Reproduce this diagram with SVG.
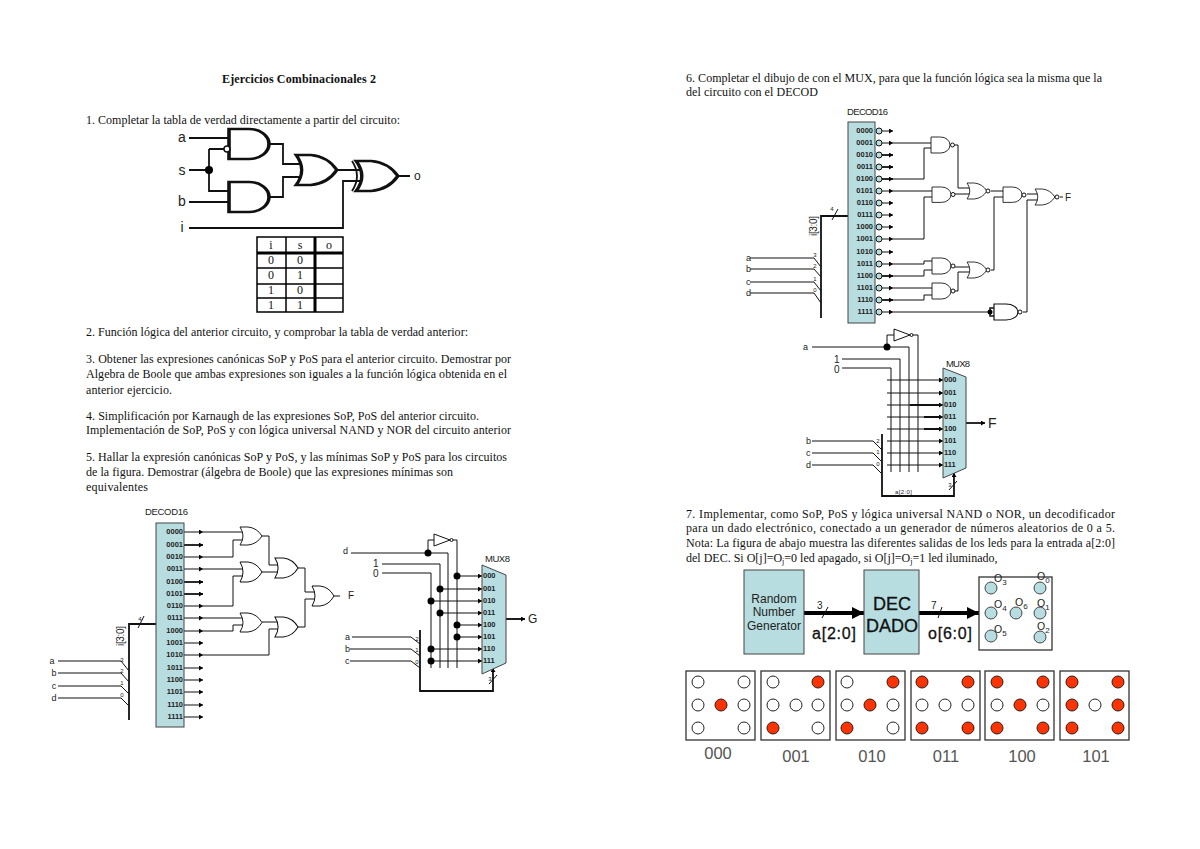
<svg xmlns="http://www.w3.org/2000/svg" width="1200" height="849" viewBox="0 0 1200 849">
<style>
.t{font-family:"Liberation Serif","Times New Roman",serif;font-size:12px;fill:#111}
.b{font-weight:bold}
.s{font-family:"Liberation Sans",Arial,sans-serif;fill:#222}
.l{font-size:9px}
.c1{font-size:14px;text-anchor:middle}
.d{font-size:7.5px;font-weight:bold;text-anchor:end;fill:#222}
.n{font-size:6px;text-anchor:middle}
.w{fill:none;stroke:#111;stroke-width:1}
.w2{fill:none;stroke:#111;stroke-width:1.800}
.w3{fill:none;stroke:#000;stroke-width:4}
.g{fill:#fff;stroke:#111;stroke-width:1;vector-effect:non-scaling-stroke}
.g2{fill:#fff;stroke:#111;stroke-width:1.800;vector-effect:non-scaling-stroke}
.blue{fill:#b7dde0;stroke:#444;stroke-width:1}
.dot{fill:#000}
.bub{fill:#b7dde0;stroke:#111;stroke-width:1}
.off{fill:#fff;stroke:#222;stroke-width:1}
.on{fill:#ff3300;stroke:#222;stroke-width:1}
.led{fill:#b7dde0;stroke:#444;stroke-width:1}
.die{fill:#fff;stroke:#333;stroke-width:1.300}
.dl{font-size:16.500px;text-anchor:middle;fill:#555}
.big{fill:#111;stroke:#111;stroke-width:.3}
.tb{fill:none;stroke:#000;stroke-width:1.500}
</style>
<defs>
<marker id="ah" markerUnits="userSpaceOnUse" markerWidth="5" markerHeight="5" refX="4" refY="2.500" orient="auto"><path d="M0 0L4 2.500L0 5Z" fill="#000"/></marker>
<marker id="ahb" markerUnits="userSpaceOnUse" markerWidth="14" markerHeight="12" refX="12" refY="6" orient="auto"><path d="M0 0L12 6L0 12Z" fill="#000"/></marker>
<path id="and" d="M0 0H10A10 10 0 0 1 10 20H0Z"/>
<path id="or" d="M-1 0H7Q16 1 21 10Q16 19 7 20H-1Q5 10 -1 0Z"/>
</defs>
<rect width="1200" height="849" fill="#fff"/>

<g id="texts">
<text class="t b" x="222" y="83" textLength="154">Ejercicios Combinacionales 2</text>
<text class="t" x="86" y="124" textLength="314">1. Completar la tabla de verdad directamente a partir del circuito:</text>
<text class="t" x="86" y="336" textLength="382">2. Función lógica del anterior circuito, y comprobar la tabla de verdad anterior:</text>
<text class="t" x="86" y="363" textLength="425">3. Obtener las expresiones canónicas SoP y PoS para el anterior circuito. Demostrar por</text>
<text class="t" x="86" y="378" textLength="421">Algebra de Boole que ambas expresiones son iguales a la función lógica obtenida en el</text>
<text class="t" x="86" y="394" textLength="86">anterior ejercicio.</text>
<text class="t" x="86" y="420" textLength="393">4. Simplificación por Karnaugh de las expresiones SoP, PoS del anterior circuito.</text>
<text class="t" x="86" y="434" textLength="425">Implementación de SoP, PoS y con lógica universal NAND y NOR del circuito anterior</text>
<text class="t" x="86" y="461" textLength="421">5. Hallar la expresión canónicas SoP y PoS, y las mínimas SoP y PoS para los circuitos</text>
<text class="t" x="86" y="476" textLength="367">de la figura. Demostrar (álgebra de Boole) que las expresiones mínimas son</text>
<text class="t" x="86" y="491" textLength="62">equivalentes</text>
<text class="t" x="686" y="82" textLength="416">6. Completar el dibujo de con el MUX, para que la función lógica sea la misma que la</text>
<text class="t" x="686" y="96" textLength="132">del circuito con el DECOD</text>
<text class="t" x="686" y="518" textLength="429">7. Implementar, como SoP, PoS y lógica universal NAND o NOR, un decodificador</text>
<text class="t" x="686" y="532" textLength="429">para un dado electrónico, conectado a un generador de números aleatorios de 0 a 5.</text>
<text class="t" x="686" y="547" textLength="429">Nota: La figura de abajo muestra las diferentes salidas de los leds para la entrada a[2:0]</text>
<text class="t" x="686" y="562">del DEC. Si O[j]=O<tspan dy="2" font-size="8">j</tspan><tspan dy="-2">=0 led apagado, si O[j]=O</tspan><tspan dy="2" font-size="8">j</tspan><tspan dy="-2">=1 led iluminado,</tspan></text>
</g>

<g id="connectors">
<path class="w2" d="M189 138H229M209 149H224M209 149V191H229M189 170H209M189 202H229M269 144H283V164H302M269 197H283V177H302M337 170H362M189 228H343V181H362M398 176H410"/>
<path class="w" marker-end="url(#ah)" d="M184 532H203"/><path class="w2" marker-end="url(#ah)" d="M184 545H203"/><path class="w" marker-end="url(#ah)" d="M184 557H203"/><path class="w" marker-end="url(#ah)" d="M184 569H203"/><path class="w2" marker-end="url(#ah)" d="M184 582H203"/><path class="w2" marker-end="url(#ah)" d="M184 594H203"/><path class="w" marker-end="url(#ah)" d="M184 606H203"/><path class="w" marker-end="url(#ah)" d="M184 618H203"/><path class="w" marker-end="url(#ah)" d="M184 631H203"/><path class="w" marker-end="url(#ah)" d="M184 643H203"/><path class="w" marker-end="url(#ah)" d="M184 655H203"/><path class="w" marker-end="url(#ah)" d="M184 668H203"/><path class="w" marker-end="url(#ah)" d="M184 680H203"/><path class="w" marker-end="url(#ah)" d="M184 692H203"/><path class="w" marker-end="url(#ah)" d="M184 705H203"/><path class="w" marker-end="url(#ah)" d="M184 717H203"/>
<path class="w" d="M203 532H243M203 557H233V540H243M203 569H243M203 606H233V576H243M203 618H243M203 631H233V625H243M203 655H269V629H278M262 536H269V565H278M262 572H278M262 622H278M298 568H305V592H315M298 627H305V599H315M334 596H340"/>
<path class="w2" d="M129 720V624H156"/>
<path class="w" d="M138 628L144 616M58 661H121L129 671M58 673H121L129 682M58 686H121L129 694M58 698H121L129 706"/>
<path class="w" d="M351 553H448V668M428 553V540H434M453 540H457V668M382 564H440V668M382 573H431V668M506 619H525"/>
<path class="w" marker-end="url(#ah)" d="M457 576H482"/><path class="w" marker-end="url(#ah)" d="M440 589H482"/><path class="w" marker-end="url(#ah)" d="M431 601H482"/><path class="w" marker-end="url(#ah)" d="M440 613H482"/><path class="w" marker-end="url(#ah)" d="M457 625H482"/><path class="w" marker-end="url(#ah)" d="M457 637H482"/><path class="w" marker-end="url(#ah)" d="M431 649H482"/><path class="w" marker-end="url(#ah)" d="M431 661H482"/>
<path class="w2" marker-end="url(#ah)" d="M506 619H525"/>
<path class="w2" marker-end="url(#ah)" d="M420 630V691H493V668"/>
<path class="w" d="M352 637H411L420 644M350 649H411L420 656M350 661H411L420 668M489 684L497 675"/>
<path class="w" marker-end="url(#ah)" d="M882 131H893"/><path class="w" marker-end="url(#ah)" d="M882 143H893"/><path class="w2" marker-end="url(#ah)" d="M882 155H893"/><path class="w2" marker-end="url(#ah)" d="M882 167H893"/><path class="w2" marker-end="url(#ah)" d="M882 179H893"/><path class="w" marker-end="url(#ah)" d="M882 191H893"/><path class="w" marker-end="url(#ah)" d="M882 203H893"/><path class="w" marker-end="url(#ah)" d="M882 215H893"/><path class="w" marker-end="url(#ah)" d="M882 227H893"/><path class="w" marker-end="url(#ah)" d="M882 239H893"/><path class="w" marker-end="url(#ah)" d="M882 252H893"/><path class="w" marker-end="url(#ah)" d="M882 264H893"/><path class="w2" marker-end="url(#ah)" d="M882 276H893"/><path class="w" marker-end="url(#ah)" d="M882 288H893"/><path class="w2" marker-end="url(#ah)" d="M882 300H893"/><path class="w" marker-end="url(#ah)" d="M882 312H893"/>
<path class="w" d="M893 143H931M893 179H924V148H931M893 191H932M893 239H924V197H932M893 264H924V261H932M893 276H924V270H932M893 288H932M893 300H924V295H932M893 312H990M955 145H958V188H970M955 194H970M955 267H970M955 291H958V272H970M991 191H1003M991 270H994V197H1003M1027 194H1039M1023 312H1027V200H1039M1060 197H1063"/>
<path class="w2" d="M821 318V216H848"/>
<path class="w" d="M832 220L838 209M750 258H814L821 267M750 269H814L821 277M750 282H814L821 291M750 293H814L821 303"/>
<path class="w" d="M812 347H909V472M887 347V335H894M913 335H918V472M842 359H900V472M842 368H891V472"/>
<path class="w" marker-end="url(#ah)" d="M887 380H943"/><path class="w" marker-end="url(#ah)" d="M887 393H943"/><path class="w" marker-end="url(#ah)" d="M887 405H943"/><path class="w" marker-end="url(#ah)" d="M887 417H943"/><path class="w" marker-end="url(#ah)" d="M887 429H943"/><path class="w" marker-end="url(#ah)" d="M887 441H943"/><path class="w" marker-end="url(#ah)" d="M887 453H943"/><path class="w" marker-end="url(#ah)" d="M887 465H943"/>
<path class="w2" d="M924 417H940M924 429H940M910 405H940"/>
<path class="w2" marker-end="url(#ah)" d="M966 423H985"/>
<path class="w2" marker-end="url(#ah)" d="M882 434V496H954V473"/>
<path class="w" d="M812 441H873L882 450M812 453H873L882 462M812 465H873L882 474M949 490L957 481"/>
<path class="w3" marker-end="url(#ahb)" d="M804 613H864"/>
<path class="w3" marker-end="url(#ahb)" d="M919 613H979"/>
<path class="w" d="M828 607L822 618M942 607L938 618"/>
</g>

<g id="circuit1-nodes">
<g id="and1"><use href="#and" class="g2" transform="translate(229 129) scale(2 1.500)"/></g>
<g id="and2"><use href="#and" class="g2" transform="translate(229 182) scale(2 1.500)"/></g>
<g id="or1"><use href="#or" class="g2" transform="translate(298 155) scale(1.850 1.500)"/></g>
<g id="xor1"><path d="M352 161Q362 176 352 191" fill="none" stroke="#111" stroke-width="1.800"/><use href="#or" class="g2" transform="translate(358 161) scale(1.900 1.500)"/></g>
<circle class="dot" cx="209" cy="170" r="4"/>
<circle cx="227" cy="149" r="3" fill="#fff" stroke="#111" stroke-width="1.500"/>
<text class="s c1" x="182" y="142">a</text><text class="s c1" x="182" y="175">s</text><text class="s c1" x="182" y="206">b</text><text class="s c1" x="182" y="232">i</text>
<text class="s" x="414" y="180" font-size="12">o</text>
</g>

<g id="truth-table">
<path class="tb" d="M257 237H343V312H257ZM286 237V312M257 268H343M257 284H343M257 298H343"/>
<path fill="none" stroke="#000" stroke-width="3" d="M315 237V312M257 253H343"/>
<g class="t" text-anchor="middle"><text x="271" y="249">i</text><text x="300" y="249">s</text><text x="329" y="249">o</text>
<text x="271" y="264">0</text><text x="300" y="264">0</text><text x="271" y="279">0</text><text x="300" y="279">1</text><text x="271" y="294">1</text><text x="300" y="294">0</text><text x="271" y="309">1</text><text x="300" y="309">1</text></g>
</g>

<g id="decod1">
<rect class="blue" x="156" y="523" width="28" height="204"/>
<text class="s" x="145" y="515" font-size="9.500" textLength="43">DECOD16</text>
<g class="s d"><text x="183" y="534">0000</text><text x="183" y="547">0001</text><text x="183" y="559">0010</text><text x="183" y="571">0011</text><text x="183" y="584">0100</text><text x="183" y="596">0101</text><text x="183" y="608">0110</text><text x="183" y="620">0111</text><text x="183" y="633">1000</text><text x="183" y="645">1001</text><text x="183" y="657">1010</text><text x="183" y="670">1011</text><text x="183" y="682">1100</text><text x="183" y="694">1101</text><text x="183" y="707">1110</text><text x="183" y="719">1111</text></g>
<text class="s" font-size="10" transform="translate(124 646) rotate(-90)" textLength="20">i[3:0]</text>
<text class="s n" x="140" y="621">4</text>
<text class="s l" x="52" y="664" text-anchor="middle">a</text><text class="s l" x="54" y="676" text-anchor="middle">b</text><text class="s l" x="54" y="689" text-anchor="middle">c</text><text class="s l" x="54" y="701" text-anchor="middle">d</text>
<text class="s n" x="122" y="662">3</text><text class="s n" x="122" y="673">2</text><text class="s n" x="122" y="685">1</text><text class="s n" x="122" y="697">0</text>
</g>
<g id="or-tree1">
<use href="#or" class="g" transform="translate(241 527) scale(1 .9)"/>
<use href="#or" class="g" transform="translate(241 562) scale(1 1)"/>
<use href="#or" class="g" transform="translate(241 613) scale(1 .95)"/>
<use href="#or" class="g" transform="translate(276 558) scale(1.050 1)"/>
<use href="#or" class="g" transform="translate(276 617) scale(1.050 1)"/>
<use href="#or" class="g" transform="translate(313 586) scale(1 1)"/>
<text class="s" x="348" y="599" font-size="10">F</text>
</g>

<g id="mux1">
<polygon class="blue" points="482,565 506,575 506,663 482,674"/>
<text class="s" x="485" y="562" font-size="9.500" textLength="25">MUX8</text>
<g class="s" font-size="7.500" font-weight="bold"><text x="483" y="578">000</text><text x="483" y="591">001</text><text x="483" y="603">010</text><text x="483" y="615">011</text><text x="483" y="627">100</text><text x="483" y="639">101</text><text x="483" y="651">110</text><text x="483" y="663">111</text></g>
<polygon points="434,534 434,546 450,540" fill="#fff" stroke="#111"/><circle cx="451.500" cy="540" r="1.500" fill="#fff" stroke="#111"/>
<g class="dot"><circle cx="428" cy="553" r="3.500"/><circle cx="457" cy="576" r="3.500"/><circle cx="440" cy="589" r="3.500"/><circle cx="431" cy="601" r="3.500"/><circle cx="440" cy="613" r="3.500"/><circle cx="457" cy="625" r="3.500"/><circle cx="457" cy="637" r="3.500"/><circle cx="431" cy="649" r="3.500"/><circle cx="431" cy="661" r="3.500"/></g>
<text class="s" x="343" y="554" font-size="9">d</text><text class="s" x="373" y="567" font-size="10">1</text><text class="s" x="373" y="577" font-size="10">0</text>
<text class="s l" x="345" y="640">a</text><text class="s l" x="345" y="652">b</text><text class="s l" x="345" y="664">c</text>
<text class="s n" x="417" y="641">2</text><text class="s n" x="417" y="652">1</text><text class="s n" x="417" y="664">0</text><text class="s n" x="490" y="681">3</text>
<text class="s" x="528" y="623" font-size="12">G</text>
</g>

<g id="decod2">
<rect class="blue" x="848" y="122" width="27" height="201"/>
<text class="s" x="847" y="115" font-size="9.500" textLength="41">DECOD16</text>
<g class="s d"><text x="873" y="133">0000</text><text x="873" y="145">0001</text><text x="873" y="157">0010</text><text x="873" y="169">0011</text><text x="873" y="181">0100</text><text x="873" y="193">0101</text><text x="873" y="205">0110</text><text x="873" y="217">0111</text><text x="873" y="229">1000</text><text x="873" y="241">1001</text><text x="873" y="254">1010</text><text x="873" y="266">1011</text><text x="873" y="278">1100</text><text x="873" y="290">1101</text><text x="873" y="302">1110</text><text x="873" y="314">1111</text></g>
<g class="bub"><circle cx="879" cy="131" r="3"/><circle cx="879" cy="143" r="3"/><circle cx="879" cy="155" r="3"/><circle cx="879" cy="167" r="3"/><circle cx="879" cy="179" r="3"/><circle cx="879" cy="191" r="3"/><circle cx="879" cy="203" r="3"/><circle cx="879" cy="215" r="3"/><circle cx="879" cy="227" r="3"/><circle cx="879" cy="239" r="3"/><circle cx="879" cy="252" r="3"/><circle cx="879" cy="264" r="3"/><circle cx="879" cy="276" r="3"/><circle cx="879" cy="288" r="3"/><circle cx="879" cy="300" r="3"/><circle cx="879" cy="312" r="3"/></g>
<text class="s" font-size="10" transform="translate(817 236) rotate(-90)" textLength="20">i[3:0]</text>
<text class="s n" x="832" y="211">4</text>
<text class="s l" x="746" y="261">a</text><text class="s l" x="746" y="272">b</text><text class="s l" x="746" y="285">c</text><text class="s l" x="746" y="296">d</text>
<text class="s n" x="815" y="257">3</text><text class="s n" x="815" y="268">2</text><text class="s n" x="815" y="281">1</text><text class="s n" x="815" y="292">0</text>
</g>
<g id="nand-tree">
<use href="#and" class="g" transform="translate(931 137) scale(.95 .8)"/>
<use href="#and" class="g" transform="translate(932 187) scale(.95 .77)"/>
<use href="#and" class="g" transform="translate(932 258) scale(.95 .8)"/>
<use href="#and" class="g" transform="translate(932 283) scale(.95 .8)"/>
<use href="#and" class="g" transform="translate(1003 187) scale(.95 .77)"/>
<use href="#and" class="g" transform="translate(994 304) scale(1.200 .8)"/>
<use href="#or" class="g" transform="translate(968 183) scale(.9 .8)"/>
<use href="#or" class="g" transform="translate(968 262) scale(.9 .8)"/>
<use href="#or" class="g" transform="translate(1036 189) scale(.9 .8)"/>
<g fill="#fff" stroke="#111"><circle cx="952.500" cy="145" r="2"/><circle cx="953" cy="194.500" r="2"/><circle cx="953" cy="266" r="2"/><circle cx="953" cy="291" r="2"/><circle cx="1024" cy="195" r="2"/><circle cx="1020" cy="312" r="2"/><circle cx="988" cy="191" r="2"/><circle cx="988" cy="270" r="2"/><circle cx="1057" cy="197" r="2"/></g>
<path d="M994 308H990V316H994" fill="none" stroke="#111" stroke-width="1.500"/><circle class="dot" cx="990" cy="312" r="2.500"/>
<text class="s" x="1065" y="201" font-size="10">F</text>
</g>

<g id="mux2">
<polygon class="blue" points="943,368 966,377 966,468 943,478"/>
<text class="s" x="946" y="367" font-size="9.500" textLength="24">MUX8</text>
<g class="s" font-size="7.500" font-weight="bold"><text x="944" y="382">000</text><text x="944" y="395">001</text><text x="944" y="407">010</text><text x="944" y="419">011</text><text x="944" y="431">100</text><text x="944" y="443">101</text><text x="944" y="455">110</text><text x="944" y="467">111</text></g>
<polygon points="894,329 894,341 910,335" fill="#fff" stroke="#111"/><circle cx="911.500" cy="335" r="1.500" fill="#fff" stroke="#111"/>
<circle class="dot" cx="887" cy="347" r="3.500"/>
<text class="s l" x="803" y="350">a</text><text class="s" x="834" y="363" font-size="10">1</text><text class="s" x="834" y="373" font-size="10">0</text>
<text class="s l" x="806" y="444">b</text><text class="s l" x="806" y="456">c</text><text class="s l" x="806" y="468">d</text>
<text class="s n" x="878" y="443">2</text><text class="s n" x="878" y="454">1</text><text class="s n" x="878" y="466">0</text><text class="s n" x="950" y="487">3</text>
<text class="s" x="895" y="494" font-size="6" textLength="17">a[2:0]</text>
<text class="s" x="988" y="428" font-size="14">F</text>
</g>

<g id="random-generator">
<rect class="blue" x="744" y="570" width="60" height="84"/>
<g class="s" font-size="12" text-anchor="middle" fill="#333"><text x="774" y="603">Random</text><text x="774" y="616">Number</text><text x="774" y="630">Generator</text></g>
<text class="s" x="817" y="609" font-size="10">3</text>
<text class="s big" x="812" y="639" font-size="16" textLength="44">a[2:0]</text>
</g>
<g id="dec-dado">
<rect class="blue" x="864" y="570" width="55" height="84"/>
<g class="s big" font-size="18" text-anchor="middle"><text x="892" y="610">DEC</text><text x="892" y="632">DADO</text></g>
<text class="s" x="931" y="609" font-size="10">7</text>
<text class="s big" x="928" y="639" font-size="16" textLength="44">o[6:0]</text>
</g>
<g id="led-box">
<rect class="die" x="979" y="577" width="73" height="73"/>
<g class="led"><circle cx="991" cy="588" r="6"/><circle cx="1040" cy="588" r="6"/><circle cx="991" cy="613" r="6"/><circle cx="1016" cy="613" r="6"/><circle cx="1040" cy="613" r="6"/><circle cx="991" cy="636" r="6"/><circle cx="1040" cy="637" r="6"/></g>
<g class="s" font-size="10.500" fill="#333">
<text x="994" y="582">O<tspan font-size="8" dy="3">3</tspan></text>
<text x="1037" y="580">O<tspan font-size="8" dy="3">0</tspan></text>
<text x="994" y="608">O<tspan font-size="8" dy="3">4</tspan></text>
<text x="1015" y="606">O<tspan font-size="8" dy="3">6</tspan></text>
<text x="1037" y="607">O<tspan font-size="8" dy="3">1</tspan></text>
<text x="994" y="633">O<tspan font-size="8" dy="3">5</tspan></text>
<text x="1037" y="630">O<tspan font-size="8" dy="3">2</tspan></text>
</g>
</g>

<g id="die-000"><rect class="die" x="686" y="671" width="69" height="69"/>
<circle class="off" cx="698" cy="682" r="6"/><circle class="off" cx="744" cy="682" r="6"/><circle class="off" cx="698" cy="705" r="6"/><circle class="on" cx="721" cy="705" r="6"/><circle class="off" cx="744" cy="705" r="6"/><circle class="off" cx="698" cy="728" r="6"/><circle class="off" cx="744" cy="728" r="6"/>
<text class="s dl" x="718" y="759">000</text></g>
<g id="die-001"><rect class="die" x="761" y="671" width="69" height="69"/>
<circle class="off" cx="773" cy="682" r="6"/><circle class="on" cx="818" cy="682" r="6"/><circle class="off" cx="773" cy="705" r="6"/><circle class="off" cx="796" cy="705" r="6"/><circle class="off" cx="818" cy="705" r="6"/><circle class="on" cx="773" cy="728" r="6"/><circle class="off" cx="818" cy="728" r="6"/>
<text class="s dl" x="796" y="762">001</text></g>
<g id="die-010"><rect class="die" x="836" y="671" width="69" height="69"/>
<circle class="off" cx="847" cy="682" r="6"/><circle class="on" cx="893" cy="682" r="6"/><circle class="off" cx="847" cy="705" r="6"/><circle class="on" cx="870" cy="705" r="6"/><circle class="off" cx="893" cy="705" r="6"/><circle class="on" cx="847" cy="728" r="6"/><circle class="off" cx="893" cy="728" r="6"/>
<text class="s dl" x="872" y="762">010</text></g>
<g id="die-011"><rect class="die" x="911" y="671" width="69" height="69"/>
<circle class="on" cx="922" cy="682" r="6"/><circle class="on" cx="968" cy="682" r="6"/><circle class="off" cx="922" cy="705" r="6"/><circle class="off" cx="945" cy="705" r="6"/><circle class="off" cx="968" cy="705" r="6"/><circle class="on" cx="922" cy="728" r="6"/><circle class="on" cx="968" cy="728" r="6"/>
<text class="s dl" x="946" y="762">011</text></g>
<g id="die-100"><rect class="die" x="985" y="671" width="69" height="69"/>
<circle class="on" cx="997" cy="682" r="6"/><circle class="on" cx="1043" cy="682" r="6"/><circle class="off" cx="997" cy="705" r="6"/><circle class="on" cx="1020" cy="705" r="6"/><circle class="off" cx="1043" cy="705" r="6"/><circle class="on" cx="997" cy="728" r="6"/><circle class="on" cx="1043" cy="728" r="6"/>
<text class="s dl" x="1022" y="762">100</text></g>
<g id="die-101"><rect class="die" x="1060" y="671" width="69" height="69"/>
<circle class="on" cx="1072" cy="682" r="6"/><circle class="on" cx="1118" cy="682" r="6"/><circle class="on" cx="1072" cy="705" r="6"/><circle class="off" cx="1095" cy="705" r="6"/><circle class="on" cx="1118" cy="705" r="6"/><circle class="on" cx="1072" cy="728" r="6"/><circle class="on" cx="1118" cy="728" r="6"/>
<text class="s dl" x="1096" y="762">101</text></g>
</svg>
